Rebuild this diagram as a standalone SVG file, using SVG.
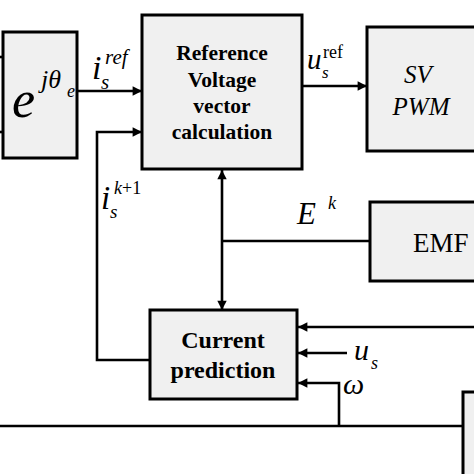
<svg xmlns="http://www.w3.org/2000/svg" width="474" height="474" viewBox="0 0 474 474">
<style>
.box{fill:#f0f0f0;stroke:#000;stroke-width:3}
.ln{fill:none;stroke:#000;stroke-width:2.6}
.b{font-weight:bold}
.i{font-style:italic}
</style>
<defs>
<marker id="ah" viewBox="0 0 10 10" refX="10" refY="5" markerWidth="4.2" markerHeight="3.6" orient="auto-start-reverse" markerUnits="strokeWidth">
<path d="M0,0 L10,5 L0,10 Z" fill="#000"/>
</marker>
</defs>
<rect width="474" height="474" fill="#fff"/>
<g id="connectors">
<line class="ln" x1="0" y1="57" x2="3" y2="57"/>
<line class="ln" x1="0" y1="132" x2="3" y2="132"/>
<line class="ln" x1="77" y1="91" x2="142" y2="91" marker-end="url(#ah)"/>
<line class="ln" x1="302" y1="86" x2="367" y2="86" marker-end="url(#ah)"/>
<polyline class="ln" points="150,360 97,360 97,132 142,132" marker-end="url(#ah)"/>
<line class="ln" x1="222" y1="170" x2="222" y2="310" marker-start="url(#ah)" marker-end="url(#ah)"/>
<line class="ln" x1="222" y1="241" x2="370" y2="241"/>
<line class="ln" x1="474" y1="327" x2="298" y2="327" marker-end="url(#ah)"/>
<line class="ln" x1="347" y1="353" x2="298" y2="353" marker-end="url(#ah)"/>
<polyline class="ln" points="339,426 339,383 298,383" marker-end="url(#ah)"/>
<line class="ln" x1="0" y1="426" x2="463" y2="426"/>
</g>
<g font-family="Liberation Serif, Times New Roman, serif" fill="#000">
<g id="exp">
<rect class="box" x="3" y="32" width="74" height="126"/>
<text class="i" x="12" y="117" font-size="52">e</text>
<text class="i" x="41" y="88" font-size="26">jθ</text>
<text class="i" x="67" y="97" font-size="18">e</text>
</g>
<g id="refvolt">
<rect class="box" x="142" y="15" width="160" height="154"/>
<text class="b" x="222" y="60" font-size="21.5" text-anchor="middle">Reference</text>
<text class="b" x="222" y="87" font-size="21.5" text-anchor="middle">Voltage</text>
<text class="b" x="222" y="113" font-size="21.5" text-anchor="middle">vector</text>
<text class="b" x="222" y="139" font-size="21.5" text-anchor="middle">calculation</text>
</g>
<g id="svpwm">
<rect class="box" x="367" y="27" width="110" height="124"/>
<text class="i" x="418" y="83" font-size="25" text-anchor="middle">SV</text>
<text class="i" x="421" y="115" font-size="25" text-anchor="middle">PWM</text>
</g>
<g id="emf">
<rect class="box" x="370" y="202" width="107" height="79"/>
<text x="413" y="252" font-size="27">EMF</text>
</g>
<g id="curpred">
<rect class="box" x="150" y="310" width="147" height="89"/>
<text class="b" x="223" y="348" font-size="24" text-anchor="middle">Current</text>
<text class="b" x="223" y="378" font-size="24" text-anchor="middle">prediction</text>
</g>
<g id="motor">
<rect class="box" x="463" y="392" width="20" height="90"/>
</g>
<g id="labels">
<text class="i" x="92" y="79" font-size="34">i</text>
<text class="i" x="101" y="89" font-size="21">s</text>
<text class="i" x="105" y="64" font-size="21">ref</text>
<text class="i" x="307" y="69" font-size="29">u</text>
<text class="i" x="322" y="78" font-size="17">s</text>
<text x="323" y="58" font-size="18">ref</text>
<text class="i" x="101" y="209" font-size="33">i</text>
<text class="i" x="110" y="218" font-size="19">s</text>
<text x="114" y="194" font-size="18"><tspan font-style="italic">k</tspan>+1</text>
<text class="i" x="297" y="224" font-size="31">E</text>
<text class="i" x="328" y="209" font-size="18">k</text>
<text class="i" x="354" y="360" font-size="30">u</text>
<text class="i" x="371" y="369" font-size="18">s</text>
<text class="i" x="343" y="394" font-size="30">ω</text>
</g>
</g>
</svg>
